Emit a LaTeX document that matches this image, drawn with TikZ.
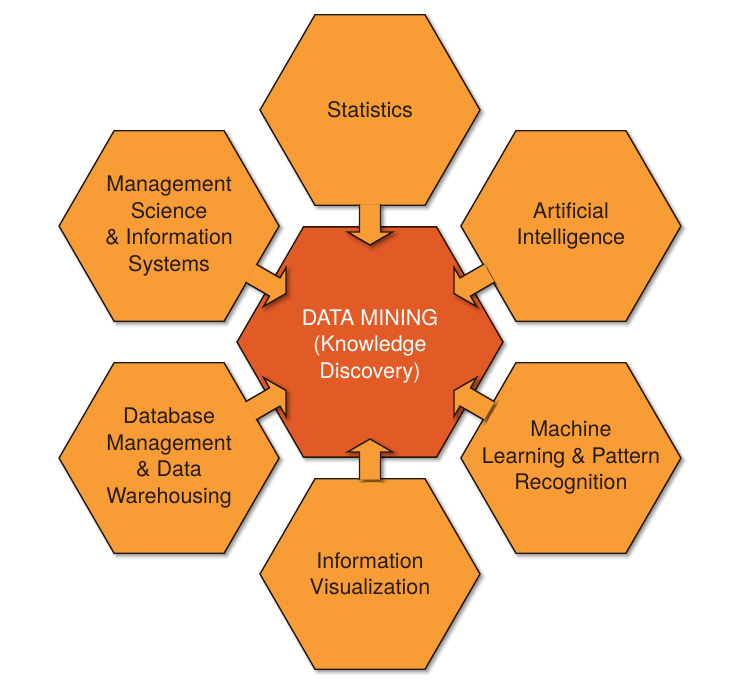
\documentclass[tikz,border=0pt]{standalone}
\usepackage{fontspec}
\setmainfont{TeX Gyre Heros}
\usetikzlibrary{shapes.geometric,calc,shadows.blur}

\definecolor{hexfill}{HTML}{F89D36}
\definecolor{corefill}{HTML}{E25A26}
\definecolor{hexedge}{HTML}{24170C}
\definecolor{hextxt}{HTML}{261C14}

\begin{document}
\begin{tikzpicture}[
    x=1pt, y=1pt,
    font=\fontsize{21.5}{26.5}\selectfont,
    softshadow/.style={blur shadow={shadow xshift=2.5pt, shadow yshift=-2.5pt,
                       shadow blur radius=3.5pt, shadow opacity=50}},
    hexbox/.style={regular polygon, regular polygon sides=6, minimum size=220pt,
                   inner sep=0pt, draw=hexedge, line width=1.4pt, fill=hexfill, softshadow},
    corebox/.style={hexbox, minimum size=266pt, fill=corefill},
    hexlbl/.style={text=hextxt, align=center},
    corelbl/.style={text=white, align=center, yshift=-4pt},
    arr/.style={fill=hexfill, draw=hexedge, line width=1.4pt, line join=miter, softshadow},
  ]
  \useasboundingbox (0,0) rectangle (736,691);

  % core
  \node[corebox, label={[corelbl]center:{DATA MINING\\(Knowledge\\Discovery)}}] (dm) at (370,349) {};

  % ring of disciplines
  \node[hexbox, label={[hexlbl]center:Statistics}] (stat) at ([shift={(90:232pt)}]dm) {};
  \node[hexbox, label={[hexlbl]center:{Artificial\\Intelligence}}] (ai) at ([shift={(30:232pt)}]dm) {};
  \node[hexbox, label={[hexlbl]center:{Machine\\Learning \& Pattern\\Recognition}}] (ml) at ([shift={(-30:232pt)}]dm) {};
  \node[hexbox, label={[hexlbl]center:{Information\\Visualization}}] (iv) at ([shift={(-90:232pt)}]dm) {};
  \node[hexbox, label={[hexlbl]center:{Database\\Management\\\& Data\\Warehousing}}] (db) at ([shift={(210:232pt)}]dm) {};
  \node[hexbox, label={[hexlbl]center:{Management\\Science\\\& Information\\Systems}}] (ms) at ([shift={(150:232pt)}]dm) {};

  % block arrows into the core
  \foreach \n in {stat,ai,ml,iv,db,ms} {
    \coordinate (s) at ($(\n)!94.3pt!(dm)$);
    \coordinate (h) at ($(dm)!110pt!(\n)$);
    \coordinate (t) at ($(dm)!97pt!(\n)$);
    \filldraw[arr] ($(s)!10.5pt!90:(dm)$) -- ($(h)!10.5pt!90:(dm)$) -- ($(h)!22.5pt!90:(dm)$)
      -- (t) -- ($(h)!22.5pt!-90:(dm)$) -- ($(h)!10.5pt!-90:(dm)$) -- ($(s)!10.5pt!-90:(dm)$);
  }
\end{tikzpicture}
\end{document}
